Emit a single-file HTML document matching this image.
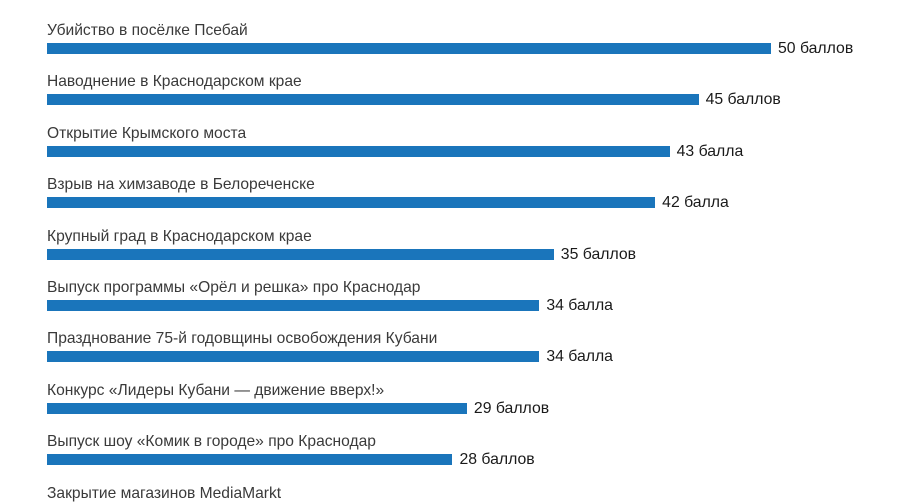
<!DOCTYPE html>
<html><head><meta charset="utf-8"><style>
body{margin:0;width:900px;height:500px;background:#fff;overflow:hidden;position:relative;font-family:"Liberation Sans","DejaVu Sans",sans-serif;}
.l{position:absolute;left:47px;font-size:15.6px;color:#3a3a3a;white-space:nowrap;line-height:18px;}
.b{position:absolute;left:47px;height:11px;background:#1a75bb;}
.v{position:absolute;font-size:15.8px;color:#1a1a1a;white-space:nowrap;line-height:18px;}
</style></head><body>
<script>
var d=[["Убийство в посёлке Псебай",50,"50 баллов"],["Наводнение в Краснодарском крае",45,"45 баллов"],["Открытие Крымского моста",43,"43 балла"],["Взрыв на химзаводе в Белореченске",42,"42 балла"],["Крупный град в Краснодарском крае",35,"35 баллов"],["Выпуск программы «Орёл и решка» про Краснодар",34,"34 балла"],["Празднование 75-й годовщины освобождения Кубани",34,"34 балла"],["Конкурс «Лидеры Кубани — движение вверх!»",29,"29 баллов"],["Выпуск шоу «Комик в городе» про Краснодар",28,"28 баллов"],["Закрытие магазинов MediaMarkt",0,""]];
var h="";
d.forEach(function(r,i){var t=43+i*51.4;var w=r[1]*14.48;
h+='<div class="l" style="top:'+(t-21)+'px">'+r[0]+'</div>';
if(r[1]){h+='<div class="b" style="top:'+t+'px;width:'+w+'px"></div>';
h+='<div class="v" style="top:'+(t-3)+'px;left:'+(47+w+7)+'px">'+r[2]+'</div>';}});
document.write(h);
</script>
</body></html>
